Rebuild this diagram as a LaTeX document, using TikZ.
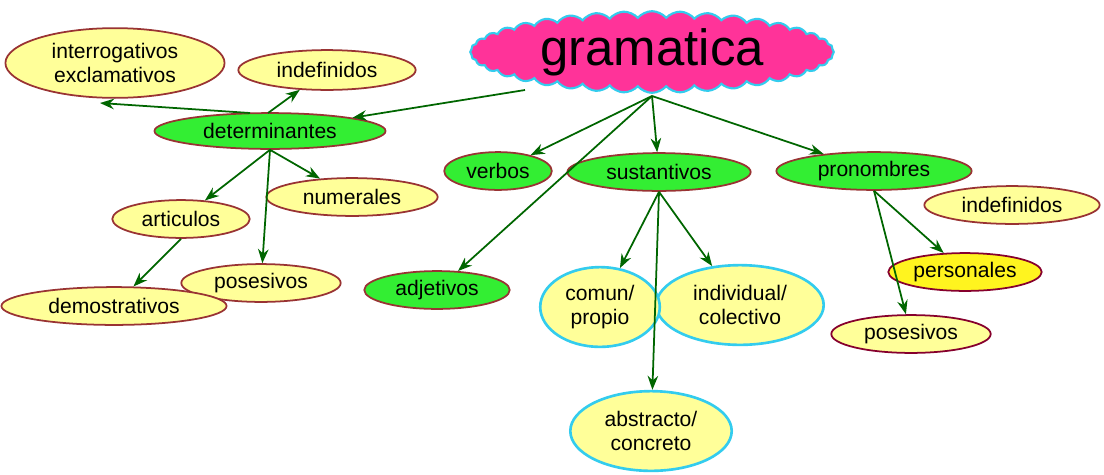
\documentclass[tikz,border=0pt]{standalone}
\usepackage{fontspec}
\setmainfont{Liberation Sans}
\usetikzlibrary{shapes.geometric,shapes.symbols,arrows.meta}
\definecolor{ylw}{HTML}{FFFF99}
\definecolor{grn}{HTML}{33EE33}
\definecolor{brd}{HTML}{993333}
\definecolor{arr}{HTML}{006600}
\definecolor{pink}{HTML}{FF3399}
\definecolor{cyn}{HTML}{33CCEE}
\tikzset{
 el/.style 2 args={ellipse,inner sep=0pt,minimum width=#1*0.567pt,minimum height=#2*0.567pt,draw=brd,line width=1pt,font=\fontsize{12}{14}\selectfont,align=center},
 yel/.style 2 args={el={#1}{#2},fill=ylw},
 gel/.style 2 args={el={#1}{#2},fill=grn},
 cel/.style 2 args={el={#1}{#2},fill=ylw,draw=cyn,line width=1.5pt},
 con/.style={draw=arr,line width=1pt,-{Stealth[length=8pt,width=6pt]}}
}
\begin{document}
\begin{tikzpicture}[x=0.02cm,y=-0.02cm]
\fill[white] (0,0) rectangle (1104,474);
\node[cloud,cloud puffs=40,cloud puff arc=100,aspect=4.5,fill=pink,draw=cyn,line width=1.2pt,minimum width=365*0.567pt,minimum height=80*0.567pt,inner sep=0pt,font=\fontsize{29}{32}\selectfont] (g) at (652,52) {gramatica};
\coordinate (g1) at (525,90);
\coordinate (g2) at (652,96);
\coordinate (d1) at (250,113);
\coordinate (d2) at (268,113);
\node[yel={220}{70}] (ie) at (115,63) {interrogativos\\exclamativos};
\coordinate (iep) at (100,103);
\node[yel={178}{40}] (ind) at (327,70) {indefinidos};
\node[yel={172}{38}] (num) at (352,197) {numerales};
\node[yel={160}{38}] (pos1) at (261,283) {posesivos};
\node[yel={226}{38}] (dem) at (114,306) {demostrativos};
\node[yel={138}{38}] (art) at (181,219) {articulos};
\node[gel={232}{36}] (det) at (270,131) {determinantes};
\node[gel={108}{38}] (ver) at (498,171) {verbos};
\node[gel={184}{38}] (sus) at (659,172) {sustantivos};
\node[yel={176}{38}] (ind2) at (1012,205) {indefinidos};
\node[gel={196}{38}] (pro) at (874,171) {pronombres};
\node[gel={146}{38}] (adj) at (437,290) {adjetivos};
\node[cel={168}{80}] (ic) at (740,305) {individual/\\colectivo};
\node[cel={120}{80}] (cp) at (600,307) {comun/\\propio};
\node[cel={162}{80}] (ac) at (651,431) {abstracto/\\concreto};
\node[yel={154}{38},fill=yellow!80!ylw,draw=purple!70!black] (per) at (965,272) {personales};
\node[yel={160}{38},draw=purple!70!black] (pos2) at (911,334) {posesivos};
\draw[con] (g1) -- (det);
\draw[con] (g2) -- (ver);
\draw[con] (g2) -- (adj);
\draw[con] (g2) -- (sus);
\draw[con] (g2) -- (pro);
\draw[con] (d2) -- (ind);
\draw[con] (d1) -- (iep);
\draw[con] (det.south) -- (num);
\draw[con] (det.south) -- (art);
\draw[con] (det.south) -- (pos1);
\draw[con] (art.south) -- (dem);
\draw[con] (sus.south) -- (cp);
\draw[con] (sus.south) -- (ic);
\draw[con] (sus.south) -- (ac);
\draw[con] (pro.south) -- (per);
\draw[con] (pro.south) -- (pos2);
\end{tikzpicture}
\end{document}
